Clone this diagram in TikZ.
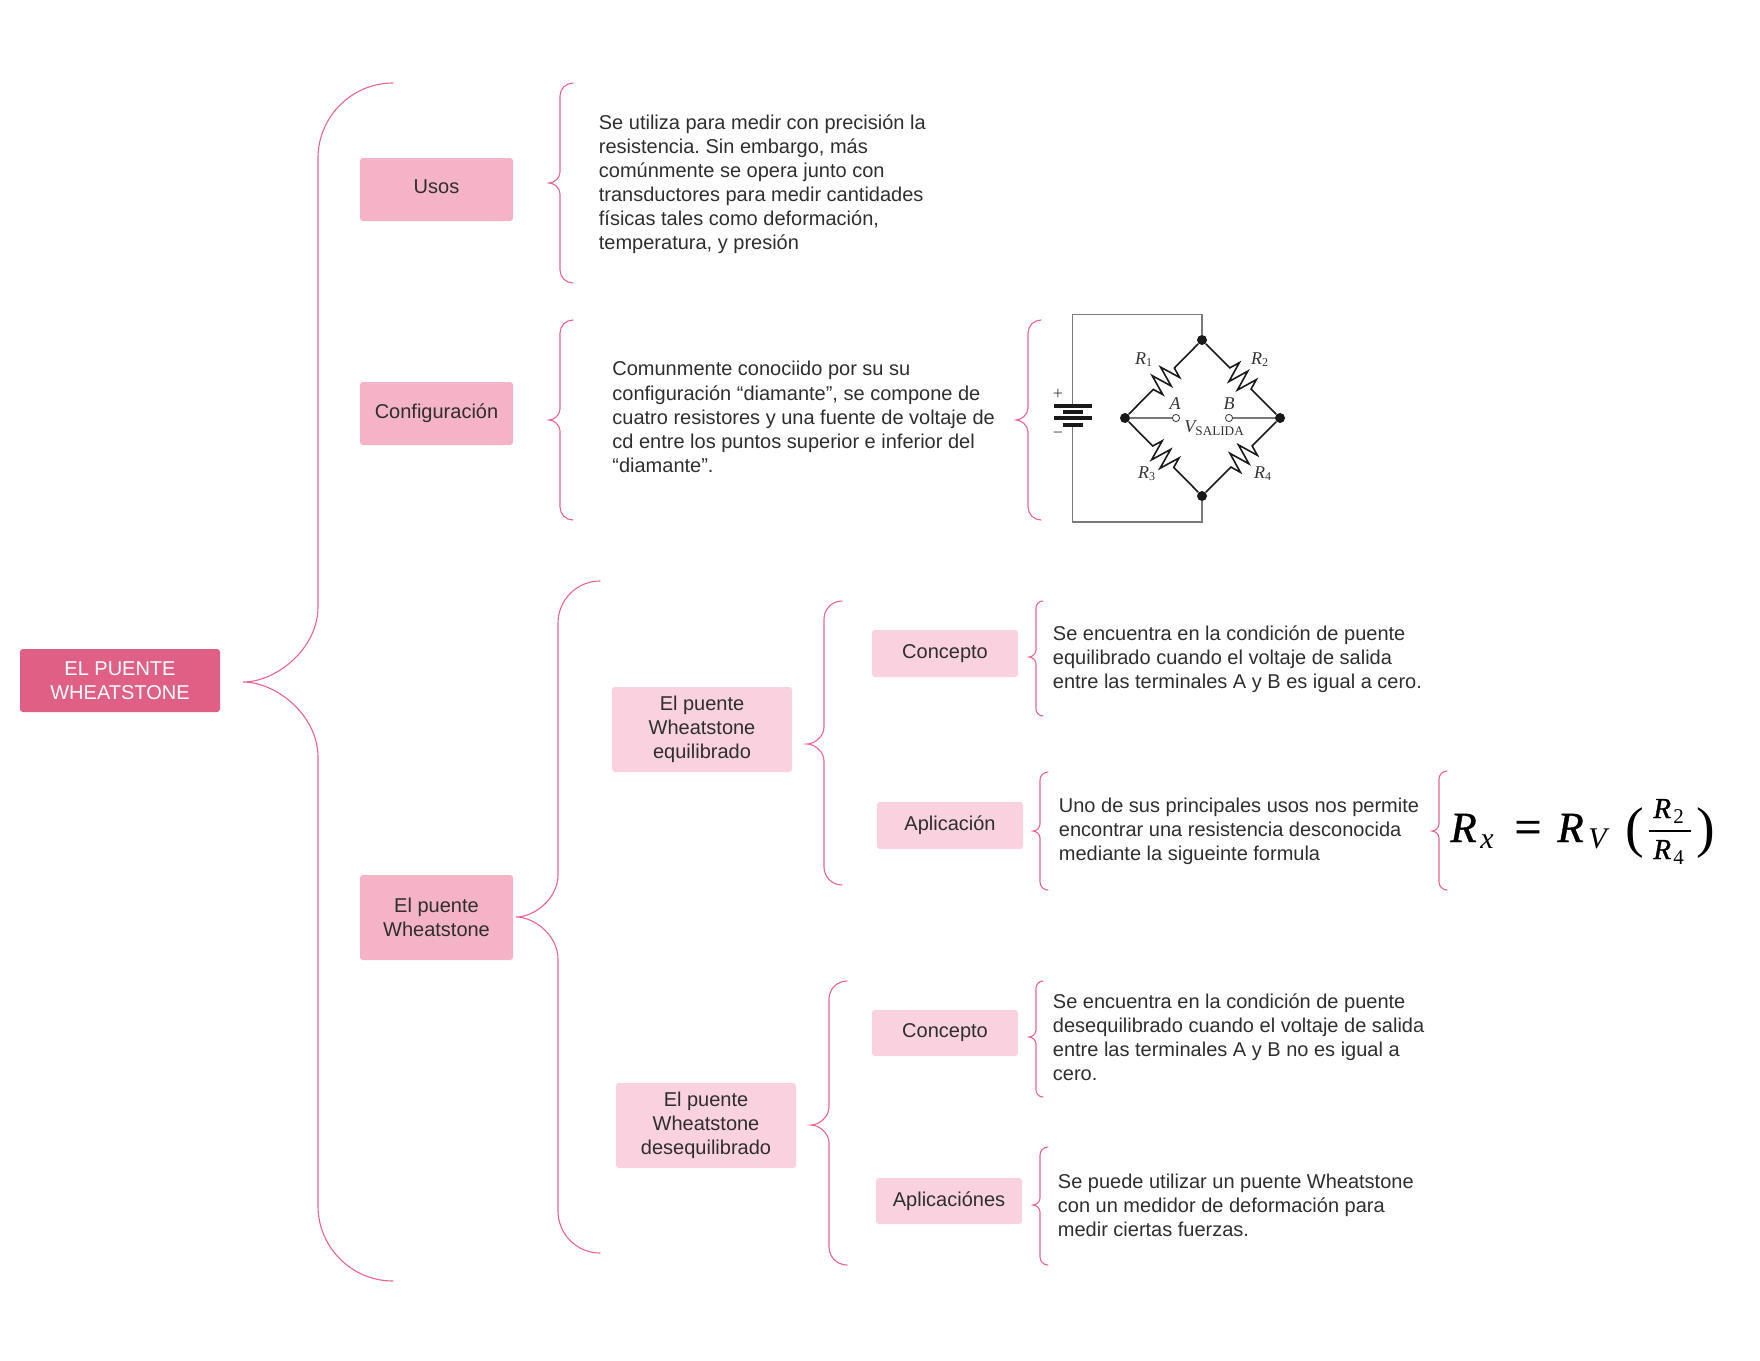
\documentclass[tikz,border=0pt]{standalone}
\usepackage{fontspec}
\setmainfont{Liberation Sans}
\newfontfamily\serifF{Liberation Serif}
\newfontface\semiR[FakeBold=1]{Liberation Serif Italic}
\newfontface\semiU[FakeBold=1]{Liberation Serif}
\usetikzlibrary{decorations.pathmorphing,calc}
\definecolor{rootc}{HTML}{DF5F85}
\definecolor{lvla}{HTML}{F4B3C7}
\definecolor{lvlb}{HTML}{FAD1DE}
\definecolor{bracec}{HTML}{E8648E}
\definecolor{txtc}{HTML}{2E2E2E}
\definecolor{wirec}{HTML}{7A7A7A}
\tikzset{
  x=0.5pt,y=-0.5pt,
  bracepath/.style={draw=bracec,line width=0.55pt,line cap=round},
  boxbase/.style={rounded corners=1.5pt,inner sep=0pt,align=center,font=\fontsize{10}{12.05}\selectfont\frenchspacing,text=txtc},
  rootbox/.style={boxbase,fill=rootc,text=white},
  boxa/.style={boxbase,fill=lvla},
  boxb/.style={boxbase,fill=lvlb},
  bodytext/.style={anchor=west,inner sep=0pt,align=left,font=\fontsize{10}{12.05}\selectfont\frenchspacing,text=txtc},
  wire/.style={draw=wirec,line width=0.55pt},
  diag/.style={draw=black!75,line width=0.55pt},
  resist/.style={draw=black!90,line width=0.8pt,decorate,decoration={zigzag,segment length=6pt,amplitude=5.2pt,pre length=17pt,post length=16pt}},
  solder/.style={circle,fill=black!90,minimum size=5pt,inner sep=0pt},
  openpin/.style={circle,draw=black!80,fill=white,line width=0.4pt,minimum size=3.6pt,inner sep=0pt},
  plate/.style={draw=black!90,line width=1.6pt},
  cirlabel/.style={inner sep=0pt,font=\serifF\fontsize{9}{10}\selectfont\itshape,text=black!80},
  formula/.style={inner sep=0pt,anchor=base west,text=black,font=\semiR\fontsize{21.5}{24}\selectfont},
}
% \bracket{name}{tip x}{tip y}{spine x}{top y}{bottom y}{end x}
\newcommand{\bracket}[7]{%
  \pgfmathsetmacro{\rA}{#7-#4}%
  \pgfmathsetmacro{\rB}{#4-#2}%
  \coordinate (#1) at (#2,#3);%
  \coordinate (#1-t) at (#7,#5);%
  \coordinate (#1-b) at (#7,#6);%
  \draw[bracepath] (#1-t)
    .. controls ({#4+0.45*\rA},#5) and (#4,{#5+0.45*\rA}) .. (#4,{#5+\rA})
    -- (#4,{#3-\rB})
    .. controls (#4,{#3-0.45*\rB}) and ({#2+0.45*\rB},#3) .. (#1)
    .. controls ({#2+0.45*\rB},#3) and (#4,{#3+0.45*\rB}) .. (#4,{#3+\rB})
    -- (#4,{#6-\rA})
    .. controls (#4,{#6-0.45*\rA}) and ({#4+0.45*\rA},#6) .. (#1-b);%
}
\newcommand{\boxat}[7]{% style name x1 y1 x2 y2 text
  \node[#1,minimum width={(#5-#3)*0.5pt},minimum height={(#6-#4)*0.5pt}] (#2) at ({(#3+#5)/2},{(#4+#6)/2}) {#7};%
}
\begin{document}
\begin{tikzpicture}
\useasboundingbox (0,0) rectangle (1760,1360);
% boxes
\boxat{rootbox}{root}{20}{649}{220}{712}{EL PUENTE\\WHEATSTONE}
\boxat{boxa}{usos}{360}{158}{513}{221}{\raisebox{3.3pt}{Usos}}
\boxat{boxa}{config}{360}{382}{513}{445}{\raisebox{-0.5pt}{Configuración}}
\boxat{boxa}{puente}{360}{875}{513}{960}{El puente\\Wheatstone}
\boxat{boxb}{equil}{612}{687}{792}{772}{El puente\\Wheatstone\\equilibrado}
\boxat{boxb}{desequil}{616}{1083}{796}{1168}{El puente\\Wheatstone\\desequilibrado}
\boxat{boxb}{conA}{872}{630}{1018}{677}{\raisebox{-0.6pt}{Concepto}}
\boxat{boxb}{aplA}{877}{802}{1023}{849}{Aplicación}
\boxat{boxb}{conB}{872}{1010}{1018}{1056}{\raisebox{-0.8pt}{Concepto}}
\boxat{boxb}{aplB}{876}{1178}{1022}{1224}{Aplicaciónes}
% braces
\bracket{bRoot}{243}{682}{318}{83}{1281}{393}
\bracket{bUsos}{549}{183}{560}{83}{283}{573}
\bracket{bConf}{549}{420}{560}{320}{520}{573}
\bracket{bCirc}{1016}{420}{1028}{320}{520}{1041}
\bracket{bPuente}{516}{917}{558}{581}{1253}{600}
\bracket{bEq}{807}{744}{824}{601}{885}{842}
\bracket{bDes}{811}{1125}{829}{981}{1265}{847}
\bracket{bConA}{1029}{657}{1036}{601}{716}{1043}
\bracket{bAplA}{1033}{831}{1040}{772}{890}{1048}
\bracket{bConB}{1029}{1037}{1036}{981}{1097}{1043}
\bracket{bAplB}{1033}{1205}{1040}{1147}{1265}{1048}
\bracket{bForm}{1432}{831}{1439}{771}{890}{1447}
% body text
\node[bodytext] (tUsos) at (598.5,184) {Se utiliza para medir con precisión la\\resistencia. Sin embargo, más\\comúnmente se opera junto con\\transductores para medir cantidades\\físicas tales como deformación,\\temperatura, y presión};
\node[bodytext] (tConf) at (612,417) {Comunmente conociido por su su\\configuración “diamante”, se compone de\\cuatro resistores y una fuente de voltaje de\\cd entre los puntos superior e inferior del\\“diamante”.};
\node[bodytext] (tConA) at (1052.5,659) {Se encuentra en la condición de puente\\equilibrado cuando el voltaje de salida\\entre las terminales A y B es igual a cero.};
\node[bodytext] (tAplA) at (1058.5,831) {Uno de sus principales usos nos permite\\encontrar una resistencia desconocida\\mediante la sigueinte formula};
\node[bodytext] (tConB) at (1052.5,1037.5) {Se encuentra en la condición de puente\\desequilibrado cuando el voltaje de salida\\entre las terminales A y B no es igual a\\cero.};
\node[bodytext] (tAplB) at (1057.5,1205) {Se puede utilizar un puente Wheatstone\\con un medidor de deformación para\\medir ciertas fuerzas.};
% circuit
\coordinate (fTL) at (1072.5,314.5);
\coordinate (fTR) at (1202,314.5);
\coordinate (fBL) at (1072.5,522);
\coordinate (fBR) at (1202,522);
\coordinate (batTop) at (1072.5,406);
\coordinate (batBot) at (1072.5,425);
\node[solder] (top) at (1202,340) {};
\node[solder] (left) at (1125,418) {};
\node[solder] (right) at (1280,418) {};
\node[solder] (bot) at (1202,496) {};
\node[openpin] (pinA) at (1176,418) {};
\node[openpin] (pinB) at (1229,418) {};
\draw[wire] (batTop) -- (fTL) -- (fTR) -- (top);
\draw[wire] (batBot) -- (fBL) -- (fBR) -- (bot);
\draw[wire] (left) -- (pinA);
\draw[wire] (pinB) -- (right);
\draw[resist] (top) -- (left);
\draw[resist] (top) -- (right);
\draw[resist] (left) -- (bot);
\draw[resist] (right) -- (bot);
\draw[plate] (1054,406) -- (1092,406);
\draw[plate] (1063,412) -- (1083,412);
\draw[plate] (1054,418) -- (1092,418);
\draw[plate] (1063,425) -- (1083,425);
\node[inner sep=0pt,font=\serifF\fontsize{9}{9}\selectfont,text=black!75] (plus) at (1058,394) {+};
\node[inner sep=0pt,font=\serifF\fontsize{9}{9}\selectfont,text=black!75] (minus) at (1058,435) {−};
\node[cirlabel] (r1) at (1144,360) {R\textsubscript{\upshape 1}};
\node[cirlabel] (r2) at (1260,360) {R\textsubscript{\upshape 2}};
\node[cirlabel] (r3) at (1147,474) {R\textsubscript{\upshape 3}};
\node[cirlabel] (r4) at (1263,474) {R\textsubscript{\upshape 4}};
\node[cirlabel] (la) at (1175,404) {A};
\node[cirlabel] (lb) at (1229,404) {B};
\node[cirlabel,anchor=west] (vout) at (1184,428) {V{\upshape\fontsize{6.6}{8}\selectfont\raisebox{-1.5pt}{SALIDA}}};
% formula
\node[formula] (fRx) at (1450,842) {R};
\node[formula,font=\serifF\fontsize{15}{16}\selectfont\itshape] (fx) at (1480,848) {x};
\node[formula,font=\semiU\fontsize{24}{24}\selectfont] (feq) at (1514,843) {=};
\node[formula] (fRv) at (1557,842) {R};
\node[formula,font=\serifF\fontsize{15}{16}\selectfont\itshape] (fv) at (1588,848) {V};
\node[formula,font=\serifF\fontsize{28}{28}\selectfont] (fpl) at (1625,846) {(};
\node[formula,font=\serifF\fontsize{28}{28}\selectfont] (fpr) at (1696,846) {)};
\node[formula,font=\semiR\fontsize{14.5}{16}\selectfont] (fr2) at (1653,818) {R};
\node[formula,font=\serifF\fontsize{10.5}{12}\selectfont] (fr2s) at (1673,823) {2};
\node[formula,font=\semiR\fontsize{14.5}{16}\selectfont] (fr4) at (1653,859) {R};
\node[formula,font=\serifF\fontsize{10.5}{12}\selectfont] (fr4s) at (1673,864) {4};
\coordinate (barL) at (1649,831);
\coordinate (barR) at (1691,831);
\draw[draw=black,line width=1pt] (barL) -- (barR);
\end{tikzpicture}
\end{document}
